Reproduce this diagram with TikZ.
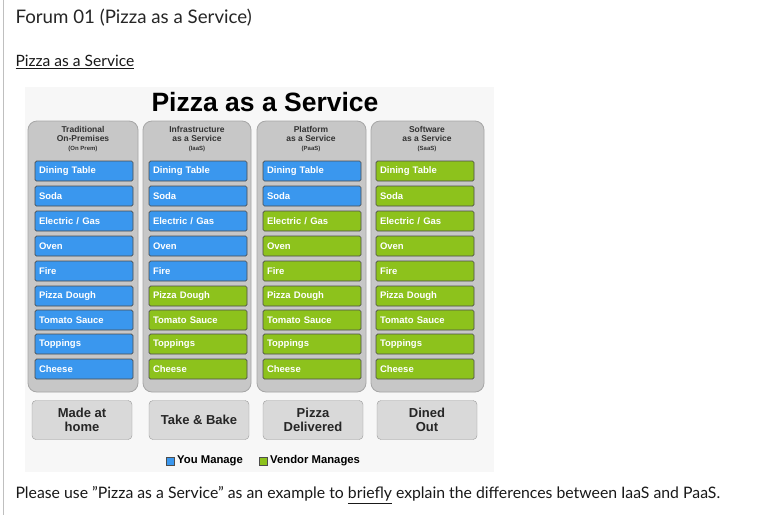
\documentclass[tikz,border=0pt]{standalone}
\usepackage{fontspec}
\setmainfont{Lato}
\newfontfamily\arial{Liberation Sans}
\begin{document}
\begin{tikzpicture}[x=1pt,y=-1pt,
  colbox/.style={draw=gray!70,fill=black!22,rounded corners=9pt,line width=0.8pt},
  blk/.style={draw=black!70,line width=0.7pt,rounded corners=1.5pt,minimum width=98pt,minimum height=20pt,text=white,font=\arial\bfseries\fontsize{9.5}{10}\selectfont,anchor=center,align=left,text width=90pt,inner sep=0pt},
  bl/.style={blk,fill=pzblue},
  gr/.style={blk,fill=pzgreen},
  bot/.style={draw=gray!80,fill=black!15,rounded corners=4pt,minimum width=100pt,minimum height=39pt,font=\arial\bfseries\fontsize{13}{13.5}\selectfont,align=center,text=black!85,inner sep=1pt},
  hdr/.style={font=\arial\bfseries\fontsize{8.5}{9.5}\selectfont,align=center,text=black!80}]
\definecolor{pzblue}{HTML}{3A97EE}
\definecolor{pzgreen}{HTML}{8DC21C}
\useasboundingbox (0,0) rectangle (757,515);
\fill[white] (0,0) rectangle (757,515);
\draw[black!25,line width=1pt] (3,0) -- (3,515);
\node[anchor=west,font=\fontsize{18.7}{22}\selectfont,text=black!85] (t) at (12,18) {Forum 01 (Pizza as a Service)};
\node[anchor=west,font=\fontsize{15.6}{18}\selectfont,text=black!90] (lnk) at (12,62) {\underline{Pizza as a Service}};
\fill[black!3] (25,87) rectangle (494,472);
\node[font=\arial\bfseries\fontsize{26.5}{28}\selectfont] (title) at (265,102) {Pizza as a Service};
\foreach \x/\w [count=\i] in {28/110,143/108,257/109,371/113}{
  \draw[colbox] (\x,121) rectangle ++(\w,271);
}
\node[hdr] (h1) at (83,139) {Traditional\\On-Premises\\[-1pt]{\fontsize{6}{6}\selectfont (On Prem)}};
\node[hdr] (h2) at (197,139) {Infrastructure\\as a Service\\[-1pt]{\fontsize{6}{6}\selectfont (IaaS)}};
\node[hdr] (h3) at (311,139) {Platform\\as a Service\\[-1pt]{\fontsize{6}{6}\selectfont (PaaS)}};
\node[hdr] (h4) at (427,139) {Software\\as a Service\\[-1pt]{\fontsize{6}{6}\selectfont (SaaS)}};
\foreach \t/\y/\a/\b/\c/\d [count=\r] in {{Dining Table}/171/bl/bl/bl/gr,Soda/196/bl/bl/bl/gr,{Electric / Gas}/221/bl/bl/gr/gr,Oven/246/bl/bl/gr/gr,Fire/271/bl/bl/gr/gr,{Pizza Dough}/296/bl/gr/gr/gr,{Tomato Sauce}/320/bl/gr/gr/gr,Toppings/344/bl/gr/gr/gr,Cheese/369/bl/gr/gr/gr}{
  \node[\a] (a\r) at (84,\y) {\t};
  \node[\b] (b\r) at (198,\y) {\t};
  \node[\c] (c\r) at (312,\y) {\t};
  \node[\d] (d\r) at (425,\y) {\t};
}
\node[bot] (m1) at (82,420) {Made at\\home};
\node[bot] (m2) at (199,420) {Take \& Bake};
\node[bot] (m3) at (313,420) {Pizza\\Delivered};
\node[bot] (m4) at (427,420) {Dined\\Out};
\node[draw=black!70,fill=pzblue,minimum size=8pt,inner sep=0pt] (lb) at (170,461) {};
\node[anchor=west,font=\arial\bfseries\fontsize{11.3}{12}\selectfont,inner sep=1pt] (lbt) at (176,461) {You Manage};
\node[draw=black!70,fill=pzgreen,minimum size=8pt,inner sep=0pt] (lg) at (263,461) {};
\node[anchor=west,font=\arial\bfseries\fontsize{11.3}{12}\selectfont,inner sep=1pt] (lgt) at (269,461) {Vendor Manages};
\node[anchor=west,font=\fontsize{15.8}{18}\selectfont,text=black!90] (q) at (12,495) {Please use \symbol{34}Pizza as a Service\symbol{34} as an example to \underline{briefly} explain the differences between IaaS and PaaS.};
\end{tikzpicture}
\end{document}
